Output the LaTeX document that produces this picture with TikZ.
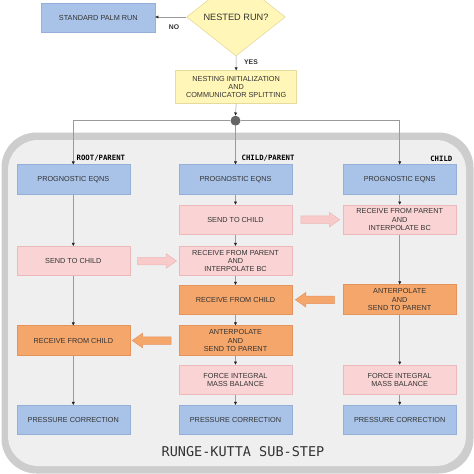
\documentclass[tikz,border=0pt]{standalone}
\usepackage{fontspec}
\setmainfont{Liberation Sans}
\newfontfamily\monofont{DejaVu Sans Mono}
\usetikzlibrary{shapes.geometric,shapes.arrows,arrows.meta,calc}

\definecolor{progblue}{HTML}{A9C3E8}
\definecolor{progblueline}{HTML}{94AFD8}
\definecolor{commpink}{HTML}{FAD4D4}
\definecolor{commpinkline}{HTML}{EBB9B9}
\definecolor{commpinkarrow}{HTML}{F8CACA}
\definecolor{commorange}{HTML}{F5A66B}
\definecolor{commorangeline}{HTML}{E6925C}
\definecolor{inityellow}{HTML}{FFF6B8}
\definecolor{inityellowline}{HTML}{E6DA9C}
\definecolor{panelband}{HTML}{CDCDCD}
\definecolor{panelfill}{HTML}{EFEFEF}
\definecolor{flowgray}{HTML}{9A9A9A}
\definecolor{labeltext}{HTML}{333333}

\tikzset{
	stepbox/.style={rectangle, minimum width=113pt, minimum height=29.5pt, inner sep=1pt,
		align=center, text=labeltext, line width=0.6pt, font=\fontsize{7.3}{8.3}\selectfont},
	progbox/.style={stepbox, fill=progblue, draw=progblueline},
	pinkbox/.style={stepbox, fill=commpink, draw=commpinkline},
	orangebox/.style={stepbox, fill=commorange, draw=commorangeline},
	initbox/.style={stepbox, fill=inityellow, draw=inityellowline},
	flow/.style={draw=flowgray, line width=0.5pt, -{Triangle[length=3pt,width=2.8pt,black!85]}},
	fatarrow/.style={single arrow, minimum height=39pt, minimum width=14pt, inner xsep=0pt, inner ysep=3.5pt,
		single arrow head extend=3.5pt, single arrow tip angle=70, line width=0.5pt},
	pinkarrow/.style={fatarrow, fill=commpinkarrow, draw=commpinkline},
	orangearrow/.style={fatarrow, fill=commorange, draw=commorangeline, shape border rotate=180},
	collabel/.style={inner sep=0pt, font=\monofont\bfseries\fontsize{7.3}{8}\selectfont},
	yesno/.style={inner sep=0pt, text=labeltext, font=\bfseries\fontsize{6.8}{8}\selectfont}
}

\begin{document}
\begin{tikzpicture}[x=1pt,y=-1pt]
	\useasboundingbox (0,0) rectangle (474,474);

	% Runge-Kutta panel
	\fill[panelband, rounded corners=35pt] (1.5,132.5) rectangle (473.5,473.5);
	\fill[panelfill, rounded corners=30pt] (8,140) rectangle (466,466);
	\node[inner sep=0pt, text=labeltext, font=\monofont\fontsize{13.5}{14}\selectfont] (rkstep) at (243,451.5) {RUNGE-KUTTA SUB-STEP};

	% top of the flow chart
	\node[diamond, minimum width=98.7pt, minimum height=78pt, inner sep=0pt, fill=inityellow, draw=inityellowline,
		line width=0.6pt, text=labeltext, font=\fontsize{9.2}{10}\selectfont] (nested) at (236,17) {NESTED RUN?};
	\node[progbox, minimum width=113.3pt, minimum height=28.7pt] (palm) at (98.3,18) {STANDARD PALM RUN};
	\node[initbox, minimum width=121pt, minimum height=32.6pt, font=\fontsize{7.3}{8}\selectfont] (init) at (236.2,87)
		{NESTING INITIALIZATION\\AND\\COMMUNICATOR SPLITTING};
	\node[circle, fill=black!60, minimum size=10pt, inner sep=0pt] (split) at (235.5,120.7) {};

	\draw[flow] (nested.west) -- (nested.west -| palm.east);
	\node[yesno] (nolbl) at (174,27) {NO};
	\draw[flow] (nested.south) -- (init.north);
	\node[yesno] (yeslbl) at (251,62) {YES};
	\draw[flow] (init.south) -- (split.north);

	% left column: root / parent
	\node[progbox] (progL) at (73.3,179.5) {PROGNOSTIC EQNS};
	\node[pinkbox] (sendL) at (73.3,261) {SEND TO CHILD};
	\node[orangebox] (recvL) at (73.3,340.5) {RECEIVE FROM CHILD};
	\node[progbox] (presL) at (73.3,420) {PRESSURE CORRECTION};

	% middle column: child / parent
	\node[progbox] (progM) at (235.5,179.5) {PROGNOSTIC EQNS};
	\node[pinkbox] (sendM) at (235.5,219.7) {SEND TO CHILD};
	\node[pinkbox] (interpM) at (235.5,261) {RECEIVE FROM PARENT\\AND\\INTERPOLATE BC};
	\node[orangebox] (recvM) at (235.5,300) {RECEIVE FROM CHILD};
	\node[orangebox] (anterM) at (235.5,340.5) {ANTERPOLATE\\AND\\SEND TO PARENT};
	\node[pinkbox] (forceM) at (235.5,379.7) {FORCE INTEGRAL\\MASS BALANCE};
	\node[progbox] (presM) at (235.5,420) {PRESSURE CORRECTION};

	% right column: child
	\node[progbox] (progR) at (399.7,179.5) {PROGNOSTIC EQNS};
	\node[pinkbox] (interpR) at (399.7,219.7) {RECEIVE FROM PARENT\\AND\\INTERPOLATE BC};
	\node[orangebox] (anterR) at (399.7,299.5) {ANTERPOLATE\\AND\\SEND TO PARENT};
	\node[pinkbox] (forceR) at (399.7,379.7) {FORCE INTEGRAL\\MASS BALANCE};
	\node[progbox] (presR) at (399.7,420) {PRESSURE CORRECTION};

	% column labels
	\node[collabel, anchor=west] (rootlbl) at (76.5,158.5) {ROOT/PARENT};
	\node[collabel, anchor=west] (cplbl) at (241.5,158.5) {CHILD/PARENT};
	\node[collabel, anchor=east] (childlbl) at (452.5,158.5) {CHILD};

	% splitting into the three columns
	\draw[flow] (split.west) -| (progL.north);
	\draw[flow] (split.south) -- (progM.north);
	\draw[flow] (split.east) -| (progR.north);

	% downwards in each column
	\draw[flow] (progL) -- (sendL);
	\draw[flow] (sendL) -- (recvL);
	\draw[flow] (recvL) -- (presL);
	\draw[flow] (progM) -- (sendM);
	\draw[flow] (sendM) -- (interpM);
	\draw[flow] (interpM) -- (recvM);
	\draw[flow] (recvM) -- (anterM);
	\draw[flow] (anterM) -- (forceM);
	\draw[flow] (forceM) -- (presM);
	\draw[flow] (progR) -- (interpR);
	\draw[flow] (interpR) -- (anterR);
	\draw[flow] (anterR) -- (forceR);
	\draw[flow] (forceR) -- (presR);

	% communication between the columns
	\node[pinkarrow] (sendMR) at ($(sendM.east)!0.5!(interpR.west)$) {};
	\node[pinkarrow] (sendLM) at ($(sendL.east)!0.5!(interpM.west)$) {};
	\node[orangearrow] (anterRM) at ($(recvM.east)!0.5!(anterR.west)$) {};
	\node[orangearrow] (anterML) at ($(recvL.east)!0.5!(anterM.west)$) {};
\end{tikzpicture}
\end{document}
